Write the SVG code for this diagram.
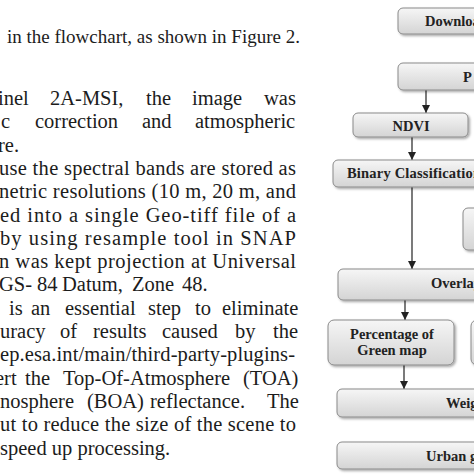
<svg xmlns="http://www.w3.org/2000/svg" width="474" height="474" viewBox="0 0 474 474">
<defs>
<linearGradient id="g" x1="0" y1="0" x2="0" y2="1">
<stop offset="0" stop-color="#f6f6f6"/>
<stop offset="1" stop-color="#d4d4d4"/>
</linearGradient>
<filter id="sh" x="-10%" y="-20%" width="130%" height="160%">
<feDropShadow dx="1.5" dy="1.5" stdDeviation="1" flood-color="#000" flood-opacity="0.35"/>
</filter>
<marker id="ah" viewBox="0 0 8 8" refX="8" refY="4" markerWidth="8" markerHeight="8" markerUnits="userSpaceOnUse" orient="auto">
<path d="M0,0 L8,4 L0,8 z" fill="#222"/>
</marker>
</defs>
<style>
.p{font-family:"Liberation Serif","Times New Roman",serif;font-size:20.5px;fill:#1c1c1c}
.box{fill:url(#g);stroke:#8a8a8a;stroke-width:1;filter:url(#sh)}
.bt{font-family:"Liberation Serif","Times New Roman",serif;font-size:14.5px;font-weight:bold;fill:#222}
.c{stroke:#222;stroke-width:1.2;fill:none}
</style>
<rect width="474" height="474" fill="#fff"/>
<g id="paragraph">
<text class="p" x="7" y="43" style="font-size:19px" textLength="293" lengthAdjust="spacing">in the flowchart, as shown in Figure 2.</text>
<text class="p" y="105"><tspan x="-2">inel</tspan><tspan x="50">2A-MSI,</tspan><tspan x="146">the</tspan><tspan x="192">image</tspan><tspan x="264">was</tspan></text>
<text class="p" y="128.3"><tspan x="1">c</tspan><tspan x="35">correction</tspan><tspan x="142">and</tspan><tspan x="195">atmospheric</tspan></text>
<text class="p" x="-2" y="151.6">re.</text>
<text class="p" x="-1" y="175" textLength="297" lengthAdjust="spacing">use the spectral bands are stored as</text>
<text class="p" x="-1" y="198.2" textLength="297" lengthAdjust="spacing">netric resolutions (10 m, 20 m, and</text>
<text class="p" x="0" y="221.5" textLength="296" lengthAdjust="spacing">ed into a single Geo-tiff file of a</text>
<text class="p" x="0" y="244.8" textLength="296" lengthAdjust="spacing">by using resample tool in SNAP</text>
<text class="p" x="-1" y="268.1" textLength="297" lengthAdjust="spacing">n was kept projection at Universal</text>
<text class="p" y="291.4"><tspan x="-1">GS-</tspan><tspan x="37">84</tspan><tspan x="62">Datum,</tspan><tspan x="132">Zone</tspan><tspan x="182">48.</tspan></text>
<text class="p" y="314.7"><tspan x="9">is</tspan><tspan x="31">an</tspan><tspan x="65">essential</tspan><tspan x="148">step</tspan><tspan x="195">to</tspan><tspan x="222">eliminate</tspan></text>
<text class="p" y="338"><tspan x="0">uracy</tspan><tspan x="60">of</tspan><tspan x="93">results</tspan><tspan x="162">caused</tspan><tspan x="235">by</tspan><tspan x="273">the</tspan></text>
<text class="p" x="0" y="361.3" textLength="295" lengthAdjust="spacing">ep.esa.int/main/third-party-plugins-</text>
<text class="p" y="384.6"><tspan x="-5">ert</tspan><tspan x="25">the</tspan><tspan x="63">Top-Of-Atmosphere</tspan><tspan x="243">(TOA)</tspan></text>
<text class="p" y="408"><tspan x="0">nosphere</tspan><tspan x="87">(BOA)</tspan><tspan x="150">reflectance.</tspan><tspan x="267">The</tspan></text>
<text class="p" x="0" y="431.2" textLength="296" lengthAdjust="spacing">ut to reduce the size of the scene to</text>
<text class="p" x="0" y="454.5">speed up processing.</text>
</g>
<g id="connectors">
<line class="c" x1="426" y1="90" x2="426" y2="113" marker-end="url(#ah)"/>
<line class="c" x1="412" y1="137" x2="412" y2="160" marker-end="url(#ah)"/>
<line class="c" x1="412" y1="187" x2="412" y2="269" marker-end="url(#ah)"/>
<line class="c" x1="405" y1="300" x2="405" y2="320" marker-end="url(#ah)"/>
<line class="c" x1="404" y1="365" x2="404" y2="389" marker-end="url(#ah)"/>
</g>
<g id="node-download"><rect class="box" x="398" y="8" width="110" height="26" rx="5"/><text class="bt" x="425" y="26">Downloa</text></g>
<g id="node-p"><rect class="box" x="398" y="63" width="110" height="27" rx="5"/><text class="bt" x="463" y="82">P</text></g>
<g id="node-ndvi"><rect class="box" x="353" y="113" width="115" height="24" rx="5"/><text class="bt" x="411" y="131" text-anchor="middle">NDVI</text></g>
<g id="node-binary"><rect class="box" x="333" y="160" width="180" height="27" rx="5"/><text class="bt" x="347" y="178" textLength="134" lengthAdjust="spacing">Binary Classification</text></g>
<g id="node-right1"><rect class="box" x="463" y="208" width="40" height="42" rx="5"/></g>
<g id="node-overlay"><rect class="box" x="338" y="269" width="180" height="31" rx="5"/><text class="bt" x="431" y="288">Overlay</text></g>
<g id="node-percentage"><rect class="box" x="328" y="320" width="126" height="45" rx="6"/><text class="bt" x="392" y="339" text-anchor="middle">Percentage of</text><text class="bt" x="392" y="355" text-anchor="middle">Green map</text></g>
<g id="node-right2"><rect class="box" x="471" y="320" width="40" height="45" rx="6"/></g>
<g id="node-weight"><rect class="box" x="337" y="389" width="180" height="28" rx="5"/><text class="bt" x="446" y="408">Weig</text></g>
<g id="node-urban"><rect class="box" x="337" y="442" width="180" height="27" rx="5"/><text class="bt" x="426" y="461">Urban g</text></g>
</svg>
